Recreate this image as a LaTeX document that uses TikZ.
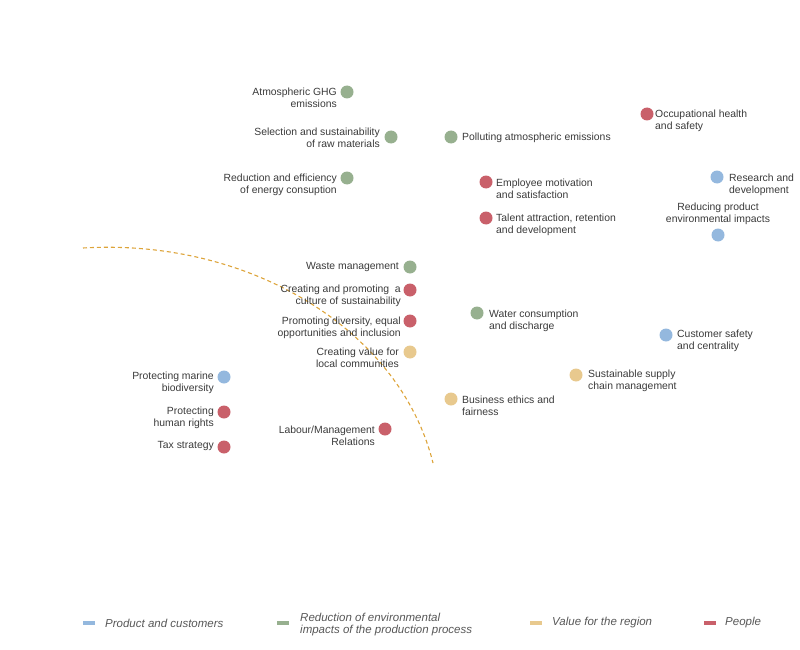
\documentclass[tikz,border=0pt]{standalone}
\usepackage{fontspec}
\setmainfont{Liberation Sans}
\begin{document}
\definecolor{cb}{HTML}{94B8DE}
\definecolor{cg}{HTML}{97B08F}
\definecolor{cy}{HTML}{E8C98E}
\definecolor{cr}{HTML}{C9606A}
\definecolor{tx}{HTML}{3A3A3A}
\definecolor{arc}{HTML}{DDA43A}
\begin{tikzpicture}[x=1pt,y=-1pt,
  dot/.style={circle,fill=#1,minimum size=13pt,inner sep=0pt},
  lbl/.style={text=tx,font=\fontsize{10.4}{12}\selectfont,inner sep=0pt,align=#1},
  leg/.style={text=tx!85,font=\fontsize{11.5}{12}\selectfont\itshape,inner sep=0pt,anchor=west,align=left}]
\useasboundingbox (0,0) rectangle (800,650);
\draw[arc,dashed,line width=1.1pt,dash pattern=on 4pt off 3pt] (83,248) .. controls (250,238) and (400,330) .. (433,463);
% green
\node[dot=cg] (g1) at (347,92) {};
\node[lbl=right,anchor=east] (tg1) at (337,98) {Atmospheric GHG\\emissions};
\node[dot=cg] (g2) at (391,137) {};
\node[lbl=right,anchor=east] (tg2) at (380,138) {Selection and sustainability\\of raw materials};
\node[dot=cg] (g3) at (347,178) {};
\node[lbl=right,anchor=east] (tg3) at (337,185) {Reduction and efficiency\\of energy consuption};
\node[dot=cg] (g4) at (451,137) {};
\node[lbl=left,anchor=west] (tg4) at (462,138) {Polluting atmospheric emissions};
\node[dot=cg] (g5) at (410,267) {};
\node[lbl=right,anchor=east] (tg5) at (399,267) {Waste management};
\node[dot=cg] (g6) at (477,313) {};
\node[lbl=left,anchor=west] (tg6) at (489,321) {Water consumption\\and discharge};
% red
\node[dot=cr] (r1) at (647,114) {};
\node[lbl=left,anchor=west] (tr1) at (655,121) {Occupational health\\and safety};
\node[dot=cr] (r2) at (486,182) {};
\node[lbl=left,anchor=west] (tr2) at (496,189) {Employee motivation\\and satisfaction};
\node[dot=cr] (r3) at (486,218) {};
\node[lbl=left,anchor=west] (tr3) at (496,225) {Talent attraction, retention\\and development};
\node[dot=cr] (r4) at (410,290) {};
\node[lbl=right,anchor=east] (tr4) at (401,296) {Creating and promoting \ a\\culture of sustainability};
\node[dot=cr] (r5) at (410,321) {};
\node[lbl=right,anchor=east] (tr5) at (401,328) {Promoting diversity, equal\\opportunities and inclusion};
\node[dot=cr] (r6) at (224,412) {};
\node[lbl=right,anchor=east] (tr6) at (214,418) {Protecting\\human rights};
\node[dot=cr] (r7) at (224,447) {};
\node[lbl=right,anchor=east] (tr7) at (214,446) {Tax strategy};
\node[dot=cr] (r8) at (385,429) {};
\node[lbl=right,anchor=east] (tr8) at (375,436) {Labour/Management\\Relations};
% blue
\node[dot=cb] (b1) at (717,177) {};
\node[lbl=left,anchor=west] (tb1) at (729,185) {Research and\\development};
\node[dot=cb] (b2) at (718,235) {};
\node[lbl=center] (tb2) at (718,214) {Reducing product\\environmental impacts};
\node[dot=cb] (b3) at (666,335) {};
\node[lbl=left,anchor=west] (tb3) at (677,341) {Customer safety\\and centrality};
\node[dot=cb] (b4) at (224,377) {};
\node[lbl=right,anchor=east] (tb4) at (214,383) {Protecting marine\\biodiversity};
% yellow
\node[dot=cy] (y1) at (410,352) {};
\node[lbl=right,anchor=east] (ty1) at (399,358) {Creating value for\\local communities};
\node[dot=cy] (y2) at (576,375) {};
\node[lbl=left,anchor=west] (ty2) at (588,381) {Sustainable supply\\chain management};
\node[dot=cy] (y3) at (451,399) {};
\node[lbl=left,anchor=west] (ty3) at (462,406) {Business ethics and\\fairness};
% legend
\fill[cb] (83,621) rectangle (95,625);
\node[leg] (l1) at (105,623) {Product and customers};
\fill[cg] (277,621) rectangle (289,625);
\node[leg] (l2) at (300,625) {Reduction of environmental\\impacts of the production process};
\fill[cy] (530,621) rectangle (542,625);
\node[leg] (l3) at (552,623) {Value for the region};
\fill[cr] (704,621) rectangle (716,625);
\node[leg] (l4) at (725,623) {People};
\end{tikzpicture}
\end{document}
